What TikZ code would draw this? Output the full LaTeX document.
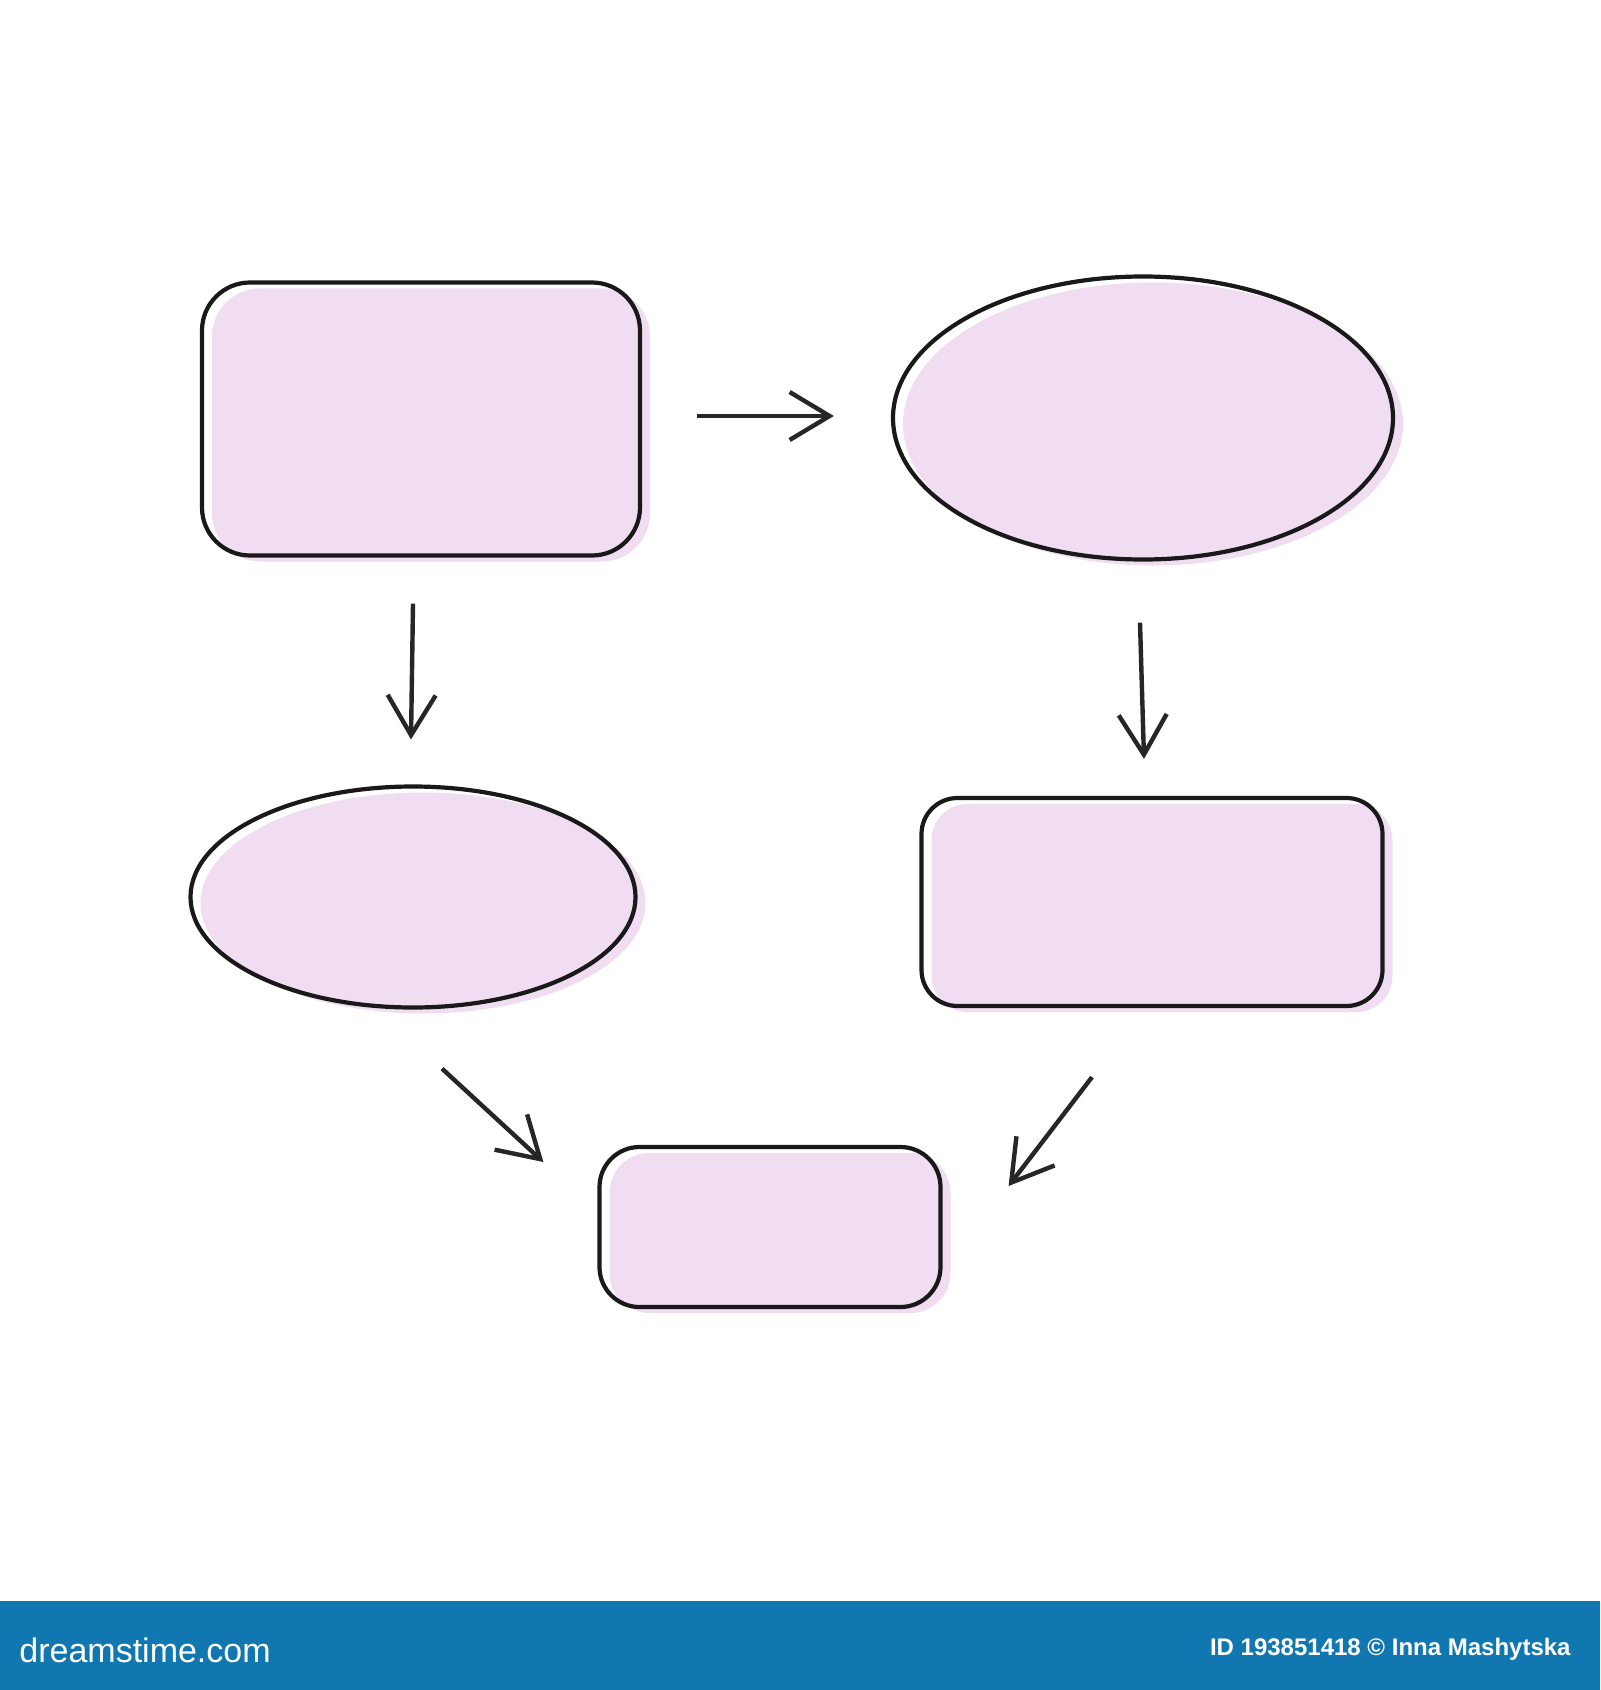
\documentclass[tikz,border=0pt]{standalone}
\usepackage{fontspec}
\setmainfont{Liberation Sans}
\usepackage{tikz}
\usetikzlibrary{arrows.meta,shapes.geometric}
\definecolor{lilac}{HTML}{F0DDF2}
\definecolor{barblue}{HTML}{1177B0}
\tikzstyle{roundbox}=[draw=black!90, line width=2.1pt, rounded corners=24pt, inner sep=0pt,
  preaction={fill=lilac, transform canvas={shift={(5pt,-3pt)}}}]
\tikzstyle{oval}=[ellipse, draw=black!90, line width=2.1pt, inner sep=0pt,
  preaction={fill=lilac, transform canvas={shift={(5pt,-3pt)}}}]
\tikzstyle{arr}=[-{Straight Barb[length=20pt,width=24pt]}, line width=2.2pt, black!85]

\begin{document}
\begin{tikzpicture}[x=0.5pt,y=-0.5pt]
  \useasboundingbox (0,0) rectangle (1600,1690);
  \fill[white] (0,0) rectangle (1600,1690);
  % shapes
  \node [roundbox, minimum width=219pt, minimum height=136.5pt] (a) at (421,419) {};
  \node [oval, minimum width=250pt, minimum height=141.5pt] (b) at (1143,418) {};
  \node [oval, minimum width=222.5pt, minimum height=110.5pt] (c) at (413,897) {};
  \node [roundbox, rounded corners=18pt, minimum width=230.5pt, minimum height=104pt] (d) at (1152,902) {};
  \node [roundbox, rounded corners=20pt, minimum width=170.5pt, minimum height=80pt] (e) at (770,1227) {};
  % arrows
  \draw[arr] ([xshift=27.5pt,yshift=1.5pt]a.east) -- ([xshift=-28.5pt,yshift=1pt]b.west);
  \draw[arr] ([xshift=-4pt,yshift=-23pt]a.south) -- ([xshift=-1pt,yshift=22.5pt]c.north);
  \draw[arr] ([xshift=-1.5pt,yshift=-30.5pt]b.south) -- ([xshift=-4pt,yshift=18.5pt]d.north);
  \draw[arr] ([xshift=14.5pt,yshift=-29.5pt]c.south) -- ([xshift=-27pt,yshift=32.5pt]e.west);
  \draw[arr] ([xshift=-30pt,yshift=-34.5pt]d.south) -- ([xshift=33pt,yshift=20.5pt]e.east);
  % footer
  \fill[barblue] (0,1601) rectangle (1600,1690);
  \node [anchor=base west, inner sep=0pt, text=white, font=\fontsize{17}{20}\selectfont] (site) at (19,1662) {dreamstime.com};
  \node [anchor=base east, inner sep=0pt, text=white, font=\bfseries\fontsize{12}{14}\selectfont] (credit) at (1571,1655) {ID 193851418 © Inna Mashytska};
\end{tikzpicture}
\end{document}
